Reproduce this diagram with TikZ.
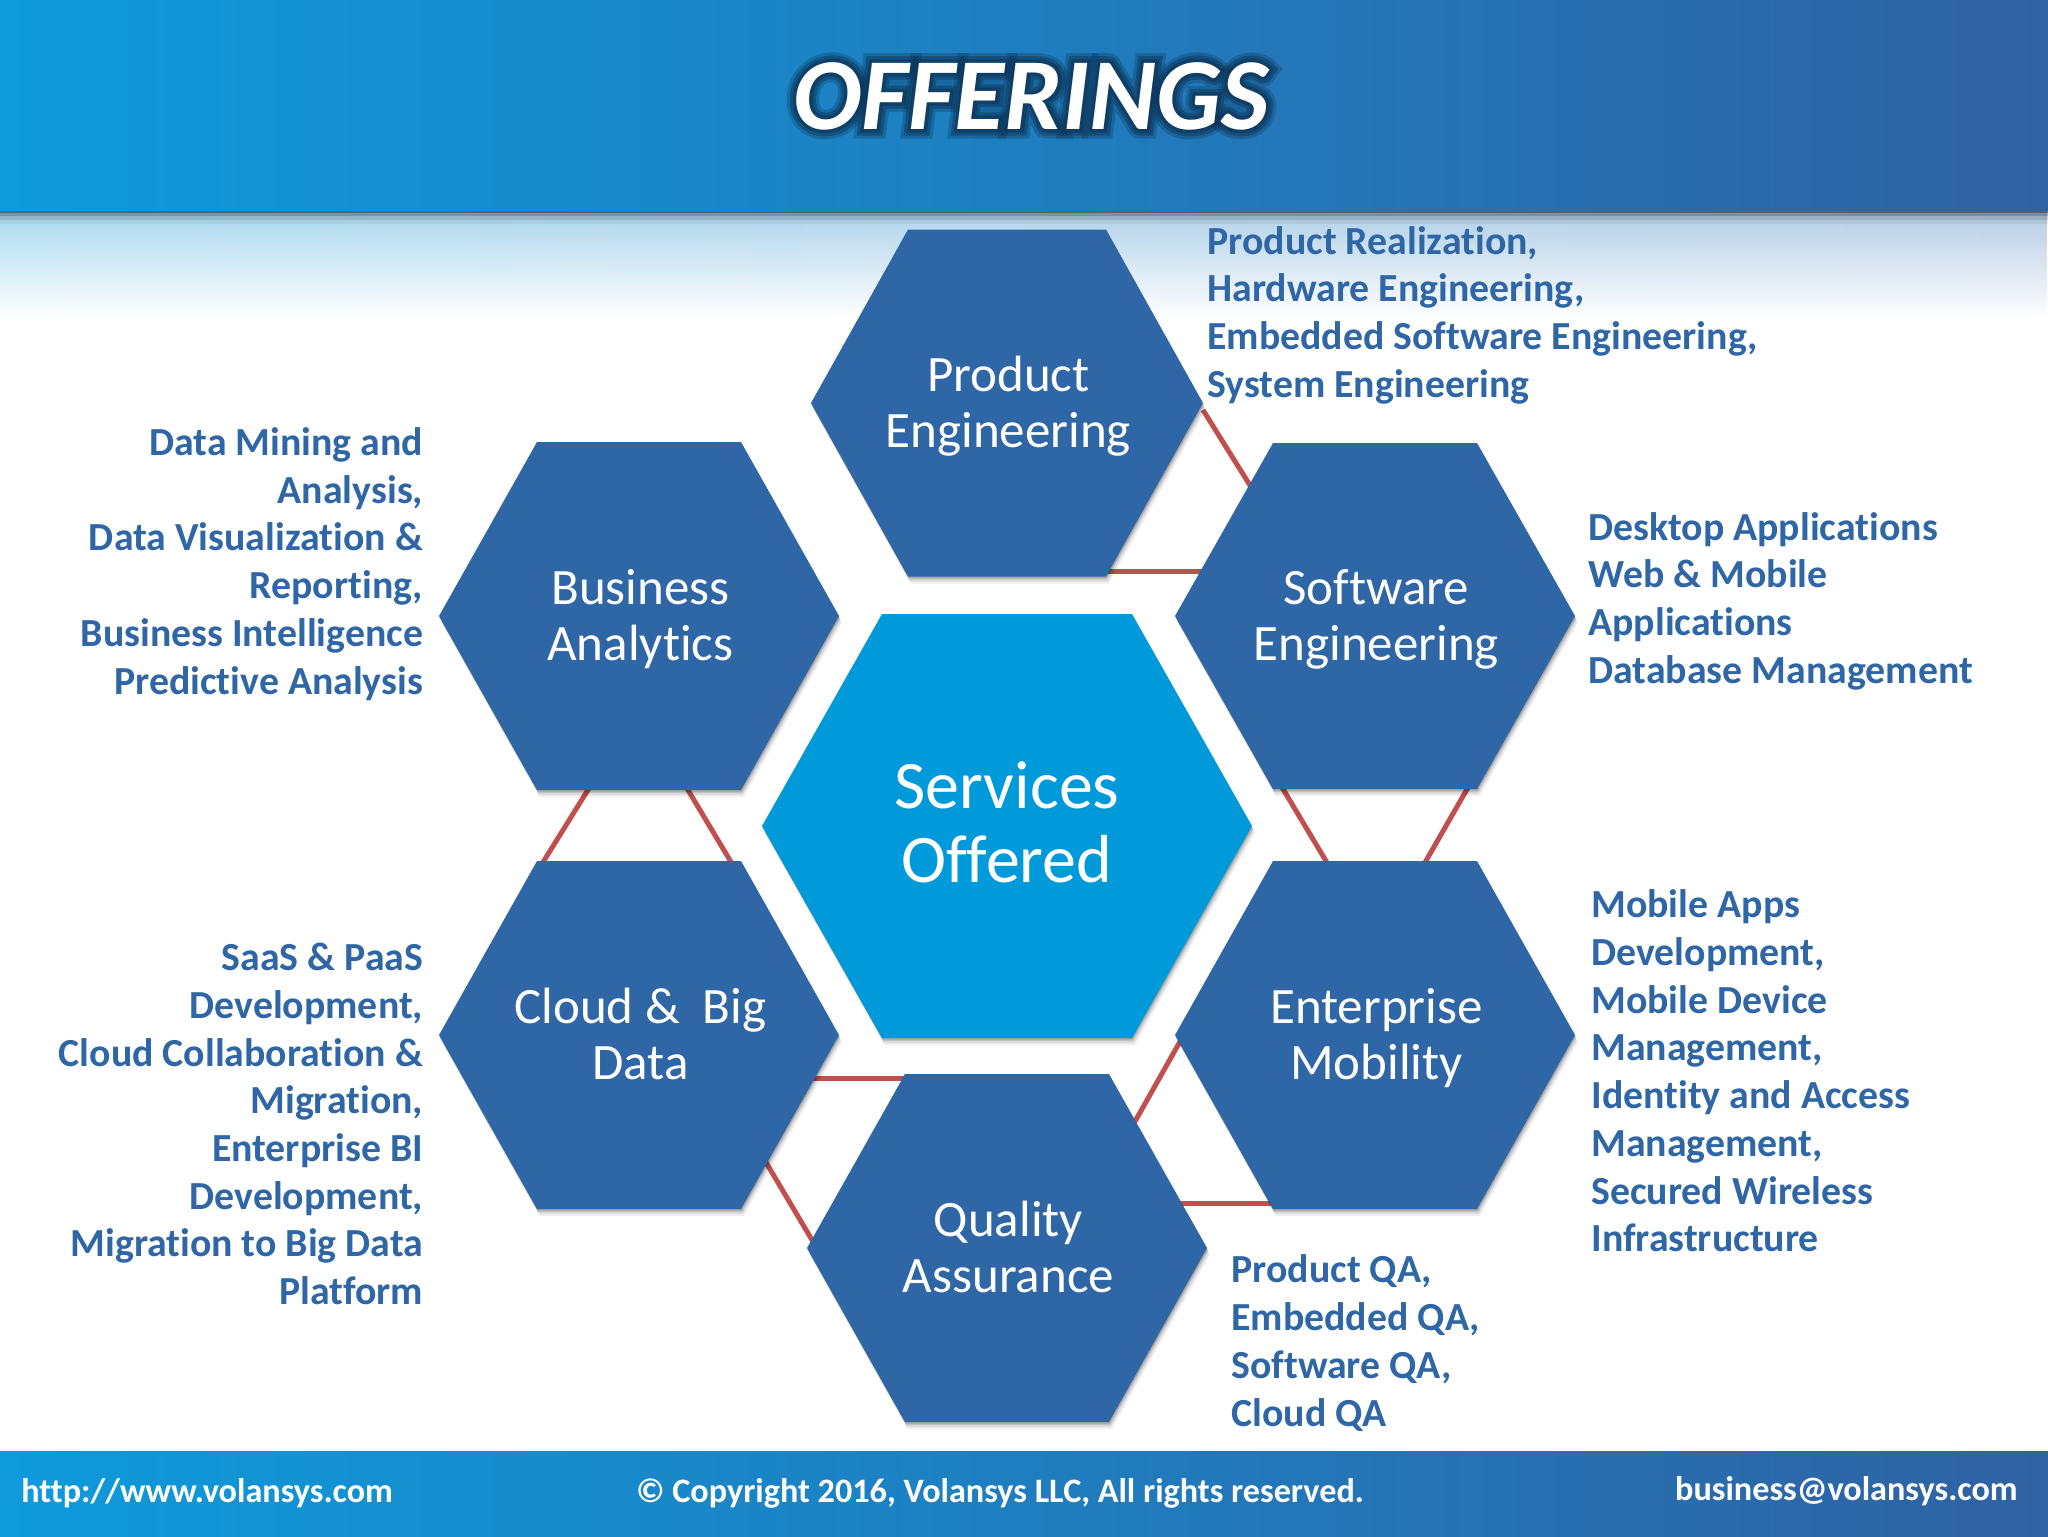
\documentclass[tikz,border=0pt]{standalone}
\usepackage{fontspec}
\setmainfont{Carlito}[Ligatures=NoCommon]
\newfontfamily\glowA[BoldItalicFont=Carlito Bold Italic,BoldItalicFeatures={FakeBold=7}]{Carlito}
\newfontfamily\glowB[BoldItalicFont=Carlito Bold Italic,BoldItalicFeatures={FakeBold=13}]{Carlito}
\newfontfamily\glowC[BoldItalicFont=Carlito Bold Italic,BoldItalicFeatures={FakeBold=19}]{Carlito}
\usetikzlibrary{calc,backgrounds,fadings}
\definecolor{hexblue}{HTML}{2F66A6}
\definecolor{hexcyan}{HTML}{009ADB}
\definecolor{linkred}{HTML}{C0504D}
\definecolor{gradL}{HTML}{0E9ADB}
\definecolor{gradM}{HTML}{2286C9}
\definecolor{gradR}{HTML}{2F62A3}
\definecolor{glow}{HTML}{0C3558}
\definecolor{washL}{HTML}{A4D8EF}
\definecolor{washR}{HTML}{B2C9E2}
\pgfdeclarelayer{links}
\pgfdeclarelayer{hexes}
\pgfsetlayers{background,links,hexes,main}
\newcommand\hexT{\rule{0pt}{22pt}}
\newcommand\hexB{\rule[-5.7pt]{0pt}{5.7pt}}
\newcommand\bigT{\rule{0pt}{27pt}}
\newcommand\bigB{\rule[-7.5pt]{0pt}{7.5pt}}
\tikzset{
  x=0.5pt,y=-0.5pt,
  hexlabel/.style={text=white,align=center,inner sep=0pt,xshift=.7pt,font=\fontsize{25.5}{28}\selectfont},
  biglabel/.style={text=white,align=center,inner sep=0pt,font=\fontsize{34}{37.25}\selectfont},
  desc/.style={text=hexblue,inner sep=0pt,font=\fontsize{19.9}{23.85}\selectfont\bfseries},
  descL/.style={desc,align=left,anchor=west},
  descR/.style={desc,align=right,anchor=east},
  foot/.style={text=white,inner sep=0pt,font=\fontsize{17.1}{20}\selectfont\bfseries},
  link/.style={draw=linkred,line width=2.5pt},
  band/.style={left color=gradL,middle color=gradM,right color=gradR,draw=none},
  titletext/.style={inner sep=0pt,anchor=base,font=\fontsize{51}{60}\selectfont\bfseries\itshape},
}
% name, x, y, half width, half top, half height, colour, node style, text
\newcommand\hexnode[9]{%
  \begin{pgfonlayer}{hexes}
    \foreach \s/\o in {7/.06,5/.08,3/.12,1.5/.15}{
      \fill[black,opacity=\o,shift={(\s*.4,\s)}] (#2-#4,#3) -- (#2-#5,#3-#6) -- (#2+#5,#3-#6) -- (#2+#4,#3) -- (#2+#5,#3+#6) -- (#2-#5,#3+#6) -- cycle;
    }
    \fill[#7] (#2-#4,#3) -- (#2-#5,#3-#6) -- (#2+#5,#3-#6) -- (#2+#4,#3) -- (#2+#5,#3+#6) -- (#2-#5,#3+#6) -- cycle;
  \end{pgfonlayer}
  \node[#8] (#1) at (#2,#3) {#9};
}
\begin{document}
\begin{tikzpicture}
\useasboundingbox (0,0) rectangle (2048,1536);
\begin{pgfonlayer}{background}
\fill[white] (0,0) rectangle (2048,1536);
% soft wash below the header
\shade[left color=washL,right color=washR,draw=none,path fading=south] (0,205) rectangle (2048,318);
% shadow of the header
\foreach \s/\o in {14/.06,10/.1,6/.18,3/.3}{\fill[black,opacity=\o] (0,205) rectangle (2048,210+\s);}
% header and footer
\shade[band] (0,0) rectangle (2048,210);
\shade[band] (0,1451) rectangle (2048,1536);
\end{pgfonlayer}
% title
\node[titletext,text=glow,opacity=.3,font=\fontsize{51}{60}\selectfont\glowC\bfseries\itshape] (titleglowC) at (1031,129) {OFFERINGS};
\node[titletext,text=glow,opacity=.45,font=\fontsize{51}{60}\selectfont\glowB\bfseries\itshape] (titleglowB) at (1031,129) {OFFERINGS};
\node[titletext,text=glow,opacity=.6,font=\fontsize{51}{60}\selectfont\glowA\bfseries\itshape] (titleglowA) at (1031,129) {OFFERINGS};
\node[titletext,text=white] (title) at (1031,129) {OFFERINGS};
% hexagons
\hexnode{serv}{1007}{826}{245}{125}{212}{hexcyan}{biglabel}{\bigT Services\\Offered\bigB}
\hexnode{prod}{1007}{403}{196}{99}{173.5}{hexblue}{hexlabel}{\hexT Product\\Engineering\hexB}
\hexnode{soft}{1375}{616}{200}{102}{173}{hexblue}{hexlabel}{\hexT Software\\Engineering\hexB}
\hexnode{ente}{1375}{1035}{200}{102}{174}{hexblue}{hexlabel}{\hexT Enterprise\\Mobility\hexB}
\hexnode{qual}{1007}{1248}{200}{102}{174}{hexblue}{hexlabel}{\hexT Quality\\Assurance\hexB}
\hexnode{clou}{639}{1035}{200}{102}{174}{hexblue}{hexlabel}{\hexT Cloud \&\ \ Big\\Data\hexB}
\hexnode{busi}{639}{616}{200}{102}{174}{hexblue}{hexlabel}{\hexT Business\\Analytics\hexB}
% connectors
\begin{pgfonlayer}{links}
\draw[link] ($(prod.center)+(194.6,7)$) -- ($(soft.center)+(-120.4,-121)$);
\draw[link] ($(prod.center)+(96.6,168)$) -- ($(soft.center)+(-166.4,-45)$);
\draw[link] ($(soft.center)+(-96.4,168)$) -- ($(ente.center)+(-47.4,-169)$);
\draw[link] ($(soft.center)+(93.6,168)$) -- ($(ente.center)+(46.6,-169)$);
\draw[link] ($(busi.center)+(-49.4,169)$) -- ($(clou.center)+(-100.4,-168)$);
\draw[link] ($(busi.center)+(44.6,169)$) -- ($(clou.center)+(93.6,-168)$);
\draw[link] ($(clou.center)+(167.6,43)$) -- ($(qual.center)+(-96.4,-170)$);
\draw[link] ($(clou.center)+(123.6,124)$) -- ($(qual.center)+(-193.4,-3)$);
\draw[link] ($(qual.center)+(124.6,-123)$) -- ($(ente.center)+(-194.4,3)$);
\draw[link] ($(qual.center)+(166.6,-45)$) -- ($(ente.center)+(-98.4,168)$);
\end{pgfonlayer}
% descriptions
\node[descL] (dprod) at (1207,315) {Product Realization,\\Hardware Engineering,\\Embedded Software Engineering,\\System Engineering};
\node[descL] (dsoft) at (1588,601) {Desktop Applications\\Web \& Mobile\\Applications\\Database Management};
\node[descL] (dente) at (1591,1071) {Mobile Apps\\Development,\\Mobile Device\\Management,\\Identity and Access\\Management,\\Secured Wireless\\Infrastructure};
\node[descL] (dqual) at (1231,1343) {Product QA,\\Embedded QA,\\Software QA,\\Cloud QA};
\node[descR] (dbusi) at (423.5,564) {Data Mining and\\Analysis,\\Data Visualization \&\\Reporting,\\Business Intelligence\\Predictive Analysis};
\node[descR] (dclou) at (423.5,1124) {SaaS \& PaaS\\Development,\\Cloud Collaboration \&\\Migration,\\Enterprise BI\\Development,\\Migration to Big Data\\Platform};
% footer
\node[foot,anchor=west] (furl) at (21,1493) {http://www.volansys.com};
\node[foot] (fcopy) at (1000,1493) {© Copyright 2016, Volansys LLC, All rights reserved.};
\node[foot,anchor=east] (fmail) at (2018,1491) {business@volansys.com};
\end{tikzpicture}
\end{document}
